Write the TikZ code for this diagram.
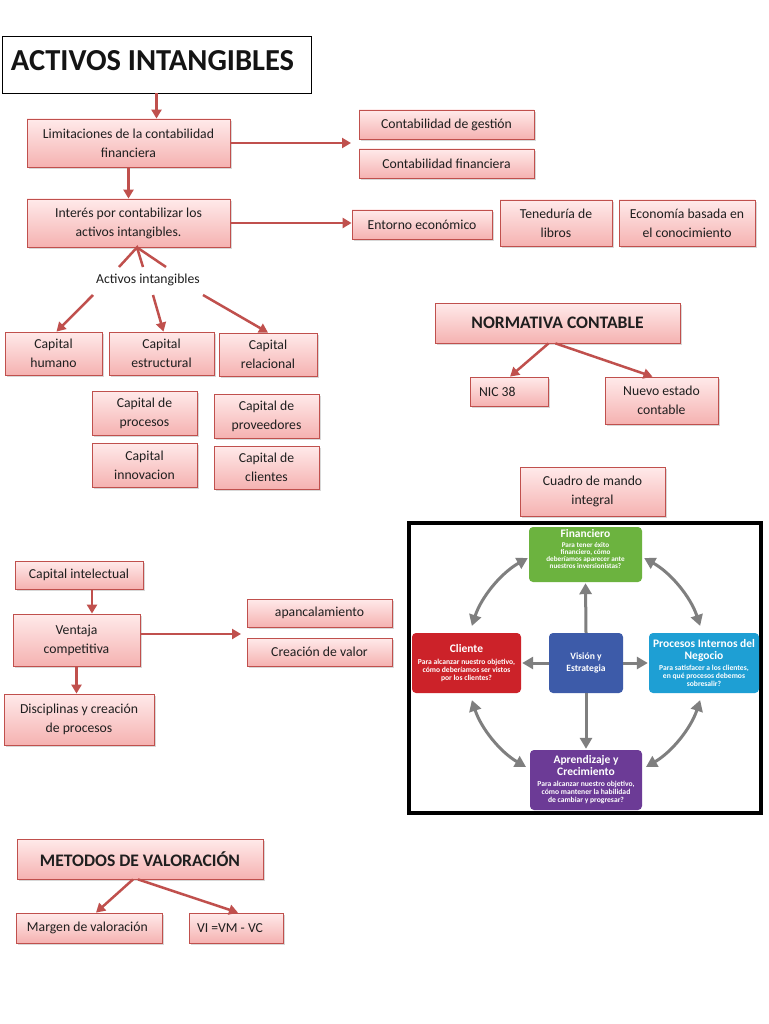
\documentclass[tikz,border=0pt]{standalone}
\usepackage{fontspec}
\setmainfont{Carlito}
\usetikzlibrary{arrows.meta,shadows,calc}
\definecolor{bord}{HTML}{C0504D}
\definecolor{btop}{HTML}{FFEAEA}
\definecolor{bbot}{HTML}{F5B2B1}
\definecolor{bscgreen}{HTML}{6CB33F}
\definecolor{bscred}{HTML}{CC2229}
\definecolor{bscblue}{HTML}{3D5BA9}
\definecolor{bsccyan}{HTML}{1E9FD4}
\definecolor{bscpurple}{HTML}{6C3B96}
\definecolor{bscgray}{HTML}{7F7F7F}
\tikzset{
  pbox/.style={draw=bord, line width=0.8pt, top color=btop, bottom color=bbot,
    drop shadow={shadow xshift=1.6pt, shadow yshift=-1.6pt, opacity=0.3},
    font=\fontsize{13.7}{19}\selectfont, align=center, inner sep=2pt, text=black!88},
  hbox/.style={pbox, font=\bfseries\fontsize{17.6}{21}\selectfont},
  rarrow/.style={draw=bord, line width=2.5pt, -{Triangle[length=9pt,width=10pt]}},
  rline/.style={draw=bord, line width=2.5pt},
  bscbox/.style={rounded corners=4pt, inner sep=1pt, text=white, align=center,
    font=\bfseries\fontsize{7.6}{8}\selectfont},
  bsctxt/.style={text=white, align=center, inner sep=0pt, font=\bfseries\fontsize{7.2}{7}\selectfont},
  garrow/.style={draw=bscgray, line width=3pt, -{Triangle[length=11pt,width=12pt]}},
  gdarrow/.style={draw=bscgray, line width=3pt, {Triangle[length=11pt,width=12pt]}-{Triangle[length=11pt,width=12pt]}},
}
\newcommand{\bhead}[1]{{\fontsize{11.5}{13}\selectfont #1}}
\begin{document}
\begin{tikzpicture}[x=1pt,y=-1pt]
\useasboundingbox (0,0) rectangle (768,1024);
\fill[white] (0,0) rectangle (768,1024);

% title
\node[draw=black, line width=0.9pt, fill=white, minimum width=309, minimum height=57, inner sep=0pt] (title) at (156.5,64.5) {};
\node[font=\bfseries\fontsize{30.5}{36}\selectfont, text=black!92, inner sep=0pt] (titletext) at (152.5,61) {ACTIVOS INTANGIBLES};

% top chain
\node[pbox, minimum width=203, minimum height=48] (lim) at (128.5,143) {Limitaciones de la contabilidad\\financiera};
\node[pbox, minimum width=175, minimum height=29] (cg) at (446.5,124.5) {Contabilidad de gestión};
\node[pbox, minimum width=175, minimum height=29] (cf) at (446.5,163.5) {Contabilidad financiera};
\node[pbox, minimum width=203, minimum height=48] (int) at (128.5,223) {Interés por contabilizar los\\activos intangibles.};
\node[pbox, minimum width=140, minimum height=29] (ent) at (422,224.5) {Entorno económico};
\node[pbox, minimum width=112, minimum height=46] (ten) at (556,223) {Teneduría de\\libros};
\node[pbox, minimum width=136, minimum height=46] (eco) at (687,223) {Economía basada en\\el conocimiento};

\coordinate (limend) at (351,143);
\draw[rarrow] (title.south) -- (lim.north -| title.south);
\draw[rarrow] (lim.east) -- (limend);
\draw[rarrow] (lim.south) -- (int.north);
\draw[rarrow] (int.east) -- (int.east -| ent.west);

% activos intangibles
\node[font=\fontsize{13.7}{16}\selectfont, text=black!88, inner sep=1pt] (act) at (148,280) {Activos intangibles};
\coordinate (apex) at ($(int.south)+(8.5,0)$);
\coordinate (sp1) at (119,267);
\coordinate (sp2) at (143,267);
\coordinate (sp3) at (166,267);
\draw[rline] (sp1) -- (apex) -- (sp2);
\draw[rline] (apex) -- (sp3);

\node[pbox, minimum width=97, minimum height=43] (chum) at (53.5,353.5) {Capital\\humano};
\node[pbox, minimum width=105, minimum height=43] (cest) at (161.5,353.5) {Capital\\estructural};
\node[pbox, minimum width=98, minimum height=43] (crel) at (268,354.5) {Capital\\relacional};
\node[pbox, minimum width=105, minimum height=44] (cproc) at (144.5,413) {Capital de\\procesos};
\node[pbox, minimum width=105, minimum height=44] (cinn) at (144.5,465) {Capital\\innovacion};
\node[pbox, minimum width=105, minimum height=44] (cprov) at (266.5,416) {Capital de\\proveedores};
\node[pbox, minimum width=105, minimum height=43] (ccli) at (266.5,467.5) {Capital de\\clientes};

\coordinate (a1) at (93,295);
\coordinate (a2) at (153,295);
\coordinate (a3) at (203,295);
\draw[rarrow] (a1) -- ($(chum.north)+(3,0)$);
\draw[rarrow] (a2) -- ($(cest.north)+(2,0)$);
\draw[rarrow] (a3) -- (crel.north);

% normativa
\node[hbox, minimum width=245, minimum height=40] (norm) at (557.5,323) {NORMATIVA CONTABLE};
\node[pbox, minimum width=78, minimum height=29] (nic) at (509,391.5) {\makebox[60pt][l]{NIC 38}};
\node[pbox, minimum width=113, minimum height=47] (nue) at (661.5,400.5) {Nuevo estado\\contable};
\draw[rarrow] ($(norm.south)+(-9,0)$) -- ($(nic.north)+(1,0)$);
\draw[rarrow] ($(norm.south)+(-2,0)$) -- ($(nue.north)+(-9,0)$);

% cuadro de mando integral
\node[pbox, minimum width=145, minimum height=49] (cmi) at (592.5,491.5) {Cuadro de mando\\integral};
\node[draw=black, line width=3.4pt, fill=white, minimum width=352, minimum height=290, inner sep=0pt,
  drop shadow={shadow xshift=1.5pt, shadow yshift=-1.5pt, opacity=0.35}] (frame) at (585,668) {};

\node[bscbox, fill=bscgreen, minimum width=113, minimum height=55] (fin) at (585.5,554.5) {};
\node[bsctxt] (fintext) at (585.5,549) {\bhead{Financiero}\\[3pt]Para tener éxito\\financiero, cómo\\deberíamos aparecer ante\\nuestros inversionistas?};
\node[bscbox, fill=bscred, minimum width=109, minimum height=60] (cli) at (466.5,663) {\bhead{Cliente}\\[4pt]Para alcanzar nuestro objetivo,\\cómo deberíamos ser vistos\\por los clientes?};
\node[bscbox, fill=bscblue, minimum width=74, minimum height=60, font=\bfseries\fontsize{9.6}{12}\selectfont] (vis) at (586,663) {Visión y\\Estrategia};
\node[bscbox, fill=bsccyan, minimum width=110, minimum height=60] (pro) at (704,663) {\bhead{Procesos Internos del}\\[2pt]\bhead{Negocio}\\[3pt]Para satisfacer a los clientes,\\en qué procesos debemos\\sobresalir?};
\node[bscbox, fill=bscpurple, minimum width=112, minimum height=60] (apr) at (586,780) {\bhead{Aprendizaje y}\\[1pt]\bhead{Crecimiento}\\[3pt]Para alcanzar nuestro objetivo,\\cómo mantener la habilidad\\de cambiar y progresar?};

\draw[garrow] (vis.north) -- ($(fin.south)+(0,1)$);
\draw[garrow] (vis.west) -- ($(cli.east)+(1,0)$);
\draw[garrow] (vis.east) -- ($(pro.west)+(-1,0)$);
\draw[garrow] (vis.south) -- ($(apr.north)+(0,-1)$);
\coordinate (bscc) at (vis.center);
\draw[gdarrow] ($(bscc)+(119:120pt)$) arc[start angle=119, end angle=162, radius=120pt];
\draw[gdarrow] ($(bscc)+(61:120pt)$) arc[start angle=61, end angle=18, radius=120pt];
\draw[gdarrow] ($(bscc)+(198:120pt)$) arc[start angle=198, end angle=240, radius=120pt];
\draw[gdarrow] ($(bscc)+(-18:120pt)$) arc[start angle=-18, end angle=-60, radius=120pt];

% capital intelectual
\node[pbox, minimum width=128, minimum height=28] (cint) at (79,575) {Capital intelectual};
\node[pbox, minimum width=127, minimum height=52] (ven) at (76.5,640) {Ventaja\\competitiva};
\node[pbox, minimum width=145, minimum height=28] (apa) at (319.5,613) {apancalamiento};
\node[pbox, minimum width=145, minimum height=28] (cre) at (319.5,652) {Creación de valor};
\node[pbox, minimum width=150, minimum height=51] (dis) at (79,719.5) {Disciplinas y creación\\de procesos};
\coordinate (venend) at (241,634);
\draw[rarrow] ($(cint.south)+(13,0)$) -- ($(ven.north)+(15.5,0)$);
\draw[rarrow] ($(ven.east)+(0,-6)$) -- (venend);
\draw[rarrow] (ven.south) -- (dis.north -| ven.south);

% metodos
\node[hbox, minimum width=246, minimum height=40] (met) at (140,859) {METODOS DE VALORACIÓN};
\node[pbox, minimum width=146, minimum height=30] (mar) at (89,928) {\makebox[124pt][l]{Margen de valoración}};
\node[pbox, minimum width=94, minimum height=30] (vi) at (236,928) {\makebox[78pt][l]{VI =VM - VC}};
\draw[rarrow] ($(met.south)+(-7,0)$) -- ($(mar.north)+(7,0)$);
\draw[rarrow] ($(met.south)+(-2,0)$) -- ($(vi.north)+(2,0)$);
\end{tikzpicture}
\end{document}
